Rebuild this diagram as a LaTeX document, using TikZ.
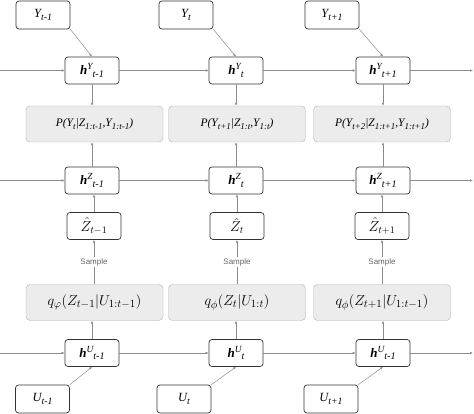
\documentclass[tikz,border=0pt]{standalone}
\usepackage{fontspec}
\setmainfont{Liberation Serif}
\newfontfamily\samplefont{Liberation Sans}
\usetikzlibrary{arrows.meta}
\newcommand{\lo}[1]{\raisebox{-0.45ex}{\scalebox{0.78}{\itshape #1}}}
\newcommand{\hi}[1]{\raisebox{0.85ex}{\scalebox{0.72}{\itshape #1}}}
\newcommand{\hv}[2]{\textbf{\textit{h}}\hi{#1}\lo{#2}}
\begin{document}
\begin{tikzpicture}[x=1pt,y=-1pt,
  box/.style={draw=black!80,rounded corners=3pt,line width=0.7pt,minimum width=54pt,minimum height=27pt,inner sep=0pt,font=\fontsize{13}{15}\selectfont},
  io/.style={box,minimum height=28pt,font=\fontsize{12.5}{14}\selectfont\itshape},
  dist/.style={draw=gray!60,fill=gray!15,rounded corners=4pt,minimum width=137pt,minimum height=36pt,inner sep=0pt,font=\fontsize{11.5}{13}\selectfont\itshape},
  link/.style={draw=gray!90,line width=0.5pt,-{Latex[length=3pt,width=2.5pt]}},
  smp/.style={fill=white,inner sep=1pt,text=gray!80!black,font=\samplefont\fontsize{8}{9}\selectfont}]
\useasboundingbox (0,0) rectangle (474,414);
% inputs Y
\node[io] (y1) at (43,15) {Y\lo{t-1}};
\node[io] (y2) at (186,15) {Y\lo{t}};
\node[io] (y3) at (332,15) {Y\lo{t+1}};
% hidden Y
\node[box] (hy1) at (92,70.5) {\hv{Y}{t-1}};
\node[box] (hy2) at (236,70.5) {\hv{Y}{t}};
\node[box] (hy3) at (383,70.5) {\hv{Y}{t+1}};
% decoders
\node[dist] (p1) at (94.5,124) {P(Y\lo{t}|Z\lo{1:t-1},Y\lo{1:t-1})};
\node[dist] (p2) at (237,124) {P(Y\lo{t+1}|Z\lo{1:t},Y\lo{1:t})};
\node[dist] (p3) at (382,124) {P(Y\lo{t+2}|Z\lo{1:t+1},Y\lo{1:t+1})};
% hidden Z
\node[box] (hz1) at (92,180.5) {\hv{Z}{t-1}};
\node[box] (hz2) at (236,180.5) {\hv{Z}{t}};
\node[box] (hz3) at (383,180.5) {\hv{Z}{t+1}};
% samples
\node[box,font=\fontsize{14}{16}\selectfont] (zh1) at (94,226) {$\hat{Z}_{t-1}$};
\node[box,font=\fontsize{14}{16}\selectfont] (zh2) at (237,226) {$\hat{Z}_{t}$};
\node[box,font=\fontsize{14}{16}\selectfont] (zh3) at (382,226) {$\hat{Z}_{t+1}$};
% encoders
\node[dist,font=\fontsize{15}{17}\selectfont] (q1) at (94.5,302.5) {$q_\varphi(Z_{t-1}|U_{1:t-1})$};
\node[dist,font=\fontsize{15}{17}\selectfont] (q2) at (237,302.5) {$q_\phi(Z_{t}|U_{1:t})$};
\node[dist,font=\fontsize{15}{17}\selectfont] (q3) at (382,302.5) {$q_\phi(Z_{t+1}|U_{1:t-1})$};
% hidden U
\node[box] (hu1) at (92,353) {\hv{U}{t-1}};
\node[box] (hu2) at (236,353) {\hv{U}{t}};
\node[box] (hu3) at (383,353) {\hv{U}{t-1}};
% inputs U
\node[io] (u1) at (42.5,399) {U\lo{t-1}};
\node[io] (u2) at (184,399) {U\lo{t}};
\node[io] (u3) at (331,399) {U\lo{t+1}};
% free ends
\coordinate (iny) at (0,70.5);
\coordinate (outy) at (473,70.5);
\coordinate (inz) at (0,180.5);
\coordinate (outz) at (473,180.5);
\coordinate (inu) at (0,353);
\coordinate (outu) at (473,353);
% recurrences
\draw[link] (iny) -- (hy1);
\draw[link] (hy1) -- (hy2);
\draw[link] (hy2) -- (hy3);
\draw[link] (hy3) -- (outy);
\draw[link] (inz) -- (hz1);
\draw[link] (hz1) -- (hz2);
\draw[link] (hz2) -- (hz3);
\draw[link] (hz3) -- (outz);
\draw[link] (inu) -- (hu1);
\draw[link] (hu1) -- (hu2);
\draw[link] (hu2) -- (hu3);
\draw[link] (hu3) -- (outu);
% inputs
\draw[link] (y1.south east) -- (hy1.north);
\draw[link] (y2.south east) -- (hy2.north);
\draw[link] (y3.south east) -- (hy3.north);
\draw[link] (u1.north east) -- (hu1.south);
\draw[link] (u2.north east) -- (hu2.south);
\draw[link] (u3.north east) -- (hu3.south);
% vertical
\draw[link] (hy1) -- (hy1|-p1.north);
\draw[link] (hy2) -- (hy2|-p2.north);
\draw[link] (hy3) -- (hy3|-p3.north);
\draw[link] (hz1) -- (hz1|-p1.south);
\draw[link] (hz2) -- (hz2|-p2.south);
\draw[link] (hz3) -- (hz3|-p3.south);
\draw[link] (zh1) -- (zh1|-hz1.south);
\draw[link] (zh2) -- (zh2|-hz2.south);
\draw[link] (zh3) -- (zh3|-hz3.south);
\draw[link] (zh1|-q1.north) -- node[smp] {Sample} (zh1);
\draw[link] (zh2|-q2.north) -- node[smp] {Sample} (zh2);
\draw[link] (zh3|-q3.north) -- node[smp] {Sample} (zh3);
\draw[link] (hu1) -- (hu1|-q1.south);
\draw[link] (hu2) -- (hu2|-q2.south);
\draw[link] (hu3) -- (hu3|-q3.south);
\end{tikzpicture}
\end{document}
